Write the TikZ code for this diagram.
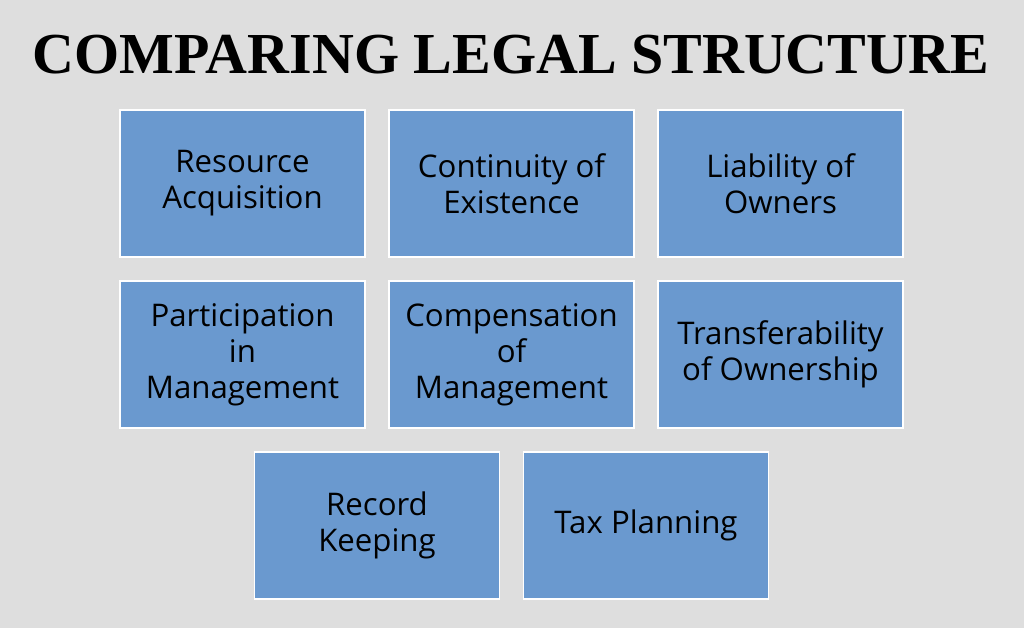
\documentclass[tikz,border=0pt]{standalone}
\usepackage{fontspec}
\setmainfont{Liberation Serif}
\newfontfamily\boxfont{Open Sans}
\usetikzlibrary{positioning}
\definecolor{pagegray}{HTML}{DEDEDE}
\definecolor{boxblue}{HTML}{6A99CF}
\tikzstyle{topic} = [rectangle, fill=boxblue, draw=white, line width=0.6pt,
minimum width=122.5pt, minimum height=73.5pt, align=center, inner sep=2pt,
outer sep=0pt, font=\boxfont\fontsize{15.6}{18}\selectfont, node distance=12pt]
\tikzstyle{heading} = [font=\bfseries\fontsize{29}{30}\selectfont, inner sep=0pt]

\begin{document}
\begin{tikzpicture}[x=0.5pt,y=-0.5pt]
				\fill[pagegray] (0,0) rectangle (1024,628);
				\useasboundingbox (0,0) rectangle (1024,628);
				\node[heading] (title) at (511,55) {COMPARING LEGAL STRUCTURE} ; %

				% first row
				\node[topic] (res) at (242.5,183.5) {Resource\\Acquisition} ; %
				\node[topic, right=of res] (cont) {Continuity of\\Existence} ; %
				\node[topic, right=of cont] (liab) {Liability of\\Owners} ; %

				% second row
				\node[topic, below=of res] (part) {Participation\\in\\Management} ; %
				\node[topic, right=of part] (comp) {Compensation\\of\\Management} ; %
				\node[topic, right=of comp] (trans) {Transferability\\of Ownership} ; %

				% third row
				\node[topic, below=of part, xshift=67.25pt] (rec) {Record\\Keeping} ; %
				\node[topic, right=of rec] (tax) {Tax Planning} ; %
\end{tikzpicture}
\end{document}
